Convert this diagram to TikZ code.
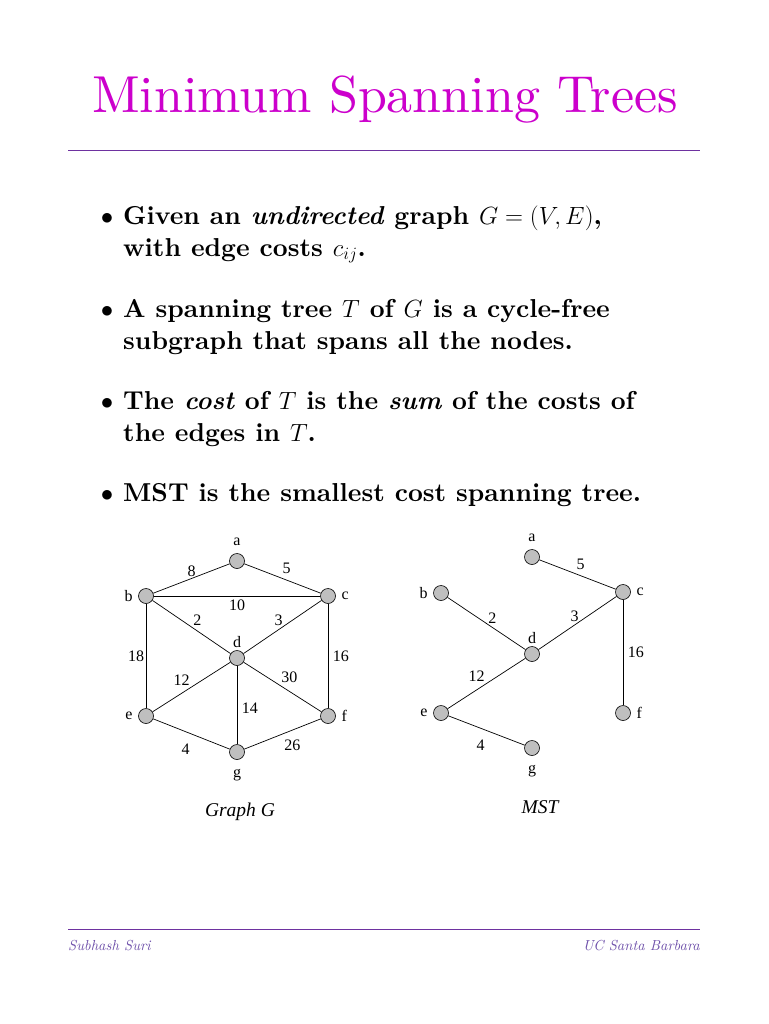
\documentclass[tikz,border=0pt]{standalone}
\usepackage{fontspec}
\setmainfont{lmroman10-regular.otf}[BoldFont=lmroman10-bold.otf, ItalicFont=lmroman10-italic.otf, BoldItalicFont=lmroman10-bolditalic.otf]
\newfontfamily\graphfont{Liberation Serif}
\usetikzlibrary{positioning}
\definecolor{titlemag}{RGB}{204,0,204}
\definecolor{rulepurple}{RGB}{110,50,160}
\definecolor{footpurple}{RGB}{110,80,170}

\begin{document}
\begin{tikzpicture}[x=1pt, y=-1pt,
    vtx/.style={circle, draw, fill=black!25, minimum size=15pt, inner sep=0pt, line width=0.6pt},
    lbl/.style={font=\graphfont\fontsize{16}{16}\selectfont, inner sep=1.5pt},
    vlbl/.style={lbl, label distance=4pt},
    edge/.style={line width=0.7pt},
    bul/.style={anchor=base west, align=left, inner sep=0pt, font=\bfseries\fontsize{25.9}{32}\selectfont},
    graphcap/.style={font=\graphfont\itshape\fontsize{19.5}{19.5}\selectfont},
    foot/.style={inner sep=0pt, font=\itshape\fontsize{14.5}{14.5}\selectfont, text=footpurple}]

  \useasboundingbox[fill=white] (0,0) rectangle (768,1024);

  % title and rules
  \node[anchor=base, font=\fontsize{52}{60}\selectfont, text=titlemag] (title) at (385,113) {Minimum Spanning Trees};
  \draw[rulepurple, line width=1pt] (68,151) -- (700,151);
  \draw[rulepurple, line width=1pt] (68,929) -- (700,929);

  % bullets (anchored at the baseline of the last line)
  \node[bul] (given) at (123,256) {\llap{$\bullet$\hspace{10pt}}Given an \textit{undirected} graph $G=(V,E)$,\\ with edge costs $c_{ij}$.};
  \node[bul] (span) at (123,349) {\llap{$\bullet$\hspace{10pt}}A spanning tree $T$ of $G$ is a cycle-free\\ subgraph that spans all the nodes.};
  \node[bul] (cost) at (123,441) {\llap{$\bullet$\hspace{10pt}}The \textit{cost} of $T$ is the \textit{sum} of the costs of\\ the edges in $T$.};
  \node[bul] (mst) at (123,501) {\llap{$\bullet$\hspace{10pt}}MST is the smallest cost spanning tree.};

  % graph G
  \node[vtx, label={[vlbl, label distance=6pt]above:a}] (ga) at (237,561) {};
  \node[vtx, label={[vlbl]left:b}]  (gb) at (146,596) {};
  \node[vtx, label={[vlbl]right:c}] (gc) at (328,596) {};
  \node[vtx, label={[vlbl, label distance=1pt]above:d}] (gd) at (237,658) {};
  \node[vtx, label={[vlbl]left:e}]  (ge) at (146,716) {};
  \node[vtx, label={[vlbl]right:f}] (gf) at (328,716) {};
  \node[vtx, label={[vlbl, label distance=8pt]below:g}] (gg) at (237,752) {};

  \draw[edge] (gb) -- node[lbl, above] {8} (ga);
  \draw[edge] (ga) -- node[lbl, above, xshift=4, yshift=3] {5} (gc);
  \draw[edge] (gb) -- node[lbl, below, yshift=-2] {10} (gc);
  \draw[edge] (gb) -- node[lbl, above right] {2} (gd);
  \draw[edge] (gd) -- node[lbl, above left, xshift=2] {3} (gc);
  \draw[edge] (gb) -- node[lbl, left] {18} (ge);
  \draw[edge] (gc) -- node[lbl, right, xshift=3] {16} (gf);
  \draw[edge] (ge) -- node[lbl, above left] {12} (gd);
  \draw[edge] (gd) -- node[lbl, above right, xshift=-3, yshift=3] {30} (gf);
  \draw[edge] (gd) -- node[lbl, right, xshift=3, yshift=-3] {14} (gg);
  \draw[edge] (ge) -- node[lbl, below left, yshift=-8] {4} (gg);
  \draw[edge] (gg) -- node[lbl, below right, yshift=-4] {26} (gf);

  \node[graphcap] (capG) at (240,812) {Graph G};

  % MST
  \node[vtx, label={[vlbl, label distance=6pt]above:a}] (ta) at (532,557) {};
  \node[vtx, label={[vlbl]left:b}]  (tb) at (441,593) {};
  \node[vtx, label={[vlbl]right:c}] (tc) at (623,592) {};
  \node[vtx, label={[vlbl, label distance=1pt]above:d}] (td) at (532,654) {};
  \node[vtx, label={[vlbl]left:e}]  (te) at (441,713) {};
  \node[vtx, label={[vlbl]right:f}] (tf) at (623,713) {};
  \node[vtx, label={[vlbl, label distance=8pt]below:g}] (tg) at (532,748) {};

  \draw[edge] (ta) -- node[lbl, above, xshift=3, yshift=3] {5} (tc);
  \draw[edge] (tb) -- node[lbl, above right, yshift=-2] {2} (td);
  \draw[edge] (td) -- node[lbl, above left, xshift=3] {3} (tc);
  \draw[edge] (te) -- node[lbl, above left] {12} (td);
  \draw[edge] (tc) -- node[lbl, right, xshift=3] {16} (tf);
  \draw[edge] (te) -- node[lbl, below left, yshift=-8] {4} (tg);

  \node[graphcap] (capT) at (540,807) {MST};

  % footer
  \node[foot, anchor=base west] (author) at (68,950) {Subhash Suri};
  \node[foot, anchor=base east] (inst) at (700,950) {UC Santa Barbara};
\end{tikzpicture}
\end{document}
